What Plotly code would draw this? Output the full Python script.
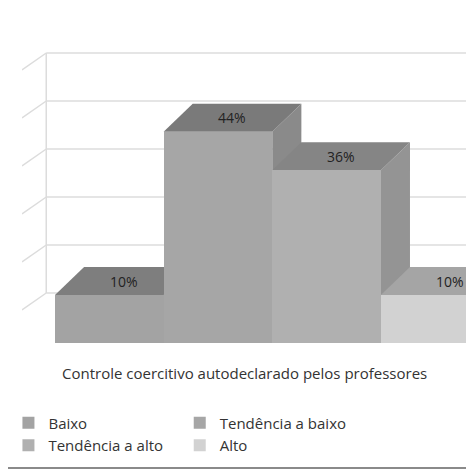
import plotly.graph_objects as go

categories = ["Baixo", "Tendência a baixo", "Tendência a alto", "Alto"]
values = [10, 44, 36, 10]
labels = ["10%", "44%", "36%", "10%"]
front_colors = ["#a3a3a3", "#a6a6a6", "#b0b0b0", "#d2d2d2"]
top_colors = ["#7e7e7e", "#7a7a7a", "#858585", "#a5a5a5"]
side_colors = ["#8a8a8a", "#8a8a8a", "#949494", "#b5b5b5"]

OFF = 8  # page body margin
W, H = 474 - OFF, 474 - OFF
floor_px = 343 - OFF
px_per = 4.8
ux = 112.0
xl = -0.5 - (42 - OFF) / ux
DX = 30 / ux
DY = 28 / px_per
WALL_DX = 25 / ux
WALL_DY = 50 / px_per

fig = go.Figure()
for i, (c, v) in enumerate(zip(categories, values)):
    fig.add_trace(go.Bar(x=[i], y=[v], width=1, name=c,
                         marker=dict(color=front_colors[i], line=dict(width=0))))

shapes = []
for v in range(0, 60, 10):
    yb = v + WALL_DY
    shapes.append(dict(type="line", xref="x", yref="y", layer="below",
                       x0=xl + WALL_DX, x1=xl + W / ux, y0=yb, y1=yb,
                       line=dict(color="#dcdcdc", width=1.5)))
    shapes.append(dict(type="line", xref="x", yref="y", layer="below",
                       x0=xl, x1=xl + WALL_DX, y0=yb - 17 / px_per, y1=yb,
                       line=dict(color="#dcdcdc", width=1.5)))
shapes.append(dict(type="line", xref="x", yref="y", layer="below",
                   x0=xl + WALL_DX, x1=xl + WALL_DX, y0=WALL_DY, y1=50 + WALL_DY,
                   line=dict(color="#dcdcdc", width=1.5)))
for i, v in enumerate(values):
    x0, x1 = i - 0.5, i + 0.5
    shapes.append(dict(type="path", xref="x", yref="y", layer="below",
                       path=f"M{x1},0 L{x1},{v} L{x1+DX},{v+DY} L{x1+DX},{DY} Z",
                       fillcolor=side_colors[i], line=dict(width=0)))
    shapes.append(dict(type="path", xref="x", yref="y", layer="below",
                       path=f"M{x0},{v} L{x1},{v} L{x1+DX},{v+DY} L{x0+DX},{v+DY} Z",
                       fillcolor=top_colors[i], line=dict(width=0)))
yb_border = (floor_px - (468 - OFF)) / floor_px
shapes.append(dict(type="line", xref="paper", yref="paper", x0=-0.05, x1=1.05,
                   y0=yb_border, y1=yb_border, line=dict(color="#8a8a8a", width=2)))

annotations = [dict(x=i + DX / 2, y=v + DY / 2, xref="x", yref="y", text=labels[i],
                    showarrow=False, font=dict(size=14, color="#222"))
               for i, v in enumerate(values)]
annotations.append(dict(x=(237 - OFF) / W, y=(floor_px - (385 - OFF)) / floor_px,
                        xref="paper", yref="paper",
                        text="Controle coercitivo autodeclarado pelos professores",
                        showarrow=False, font=dict(size=15, color="#333")))

fig.update_layout(
    width=W, height=H, margin=dict(l=0, r=0, t=0, b=H - floor_px),
    paper_bgcolor="white", plot_bgcolor="rgba(0,0,0,0)",
    font=dict(family="Open Sans, Liberation Sans, sans-serif", color="#333"),
    barmode="overlay", bargap=0,
    xaxis=dict(range=[xl, xl + W / ux], showgrid=False, zeroline=False,
               showticklabels=False, ticks=""),
    yaxis=dict(range=[0, floor_px / px_per], showgrid=False, zeroline=False,
               showticklabels=False, ticks=""),
    shapes=shapes, annotations=annotations,
    legend=dict(orientation="h", x=-0.03, xanchor="left",
                y=(floor_px - (434 - OFF)) / floor_px,
                yanchor="middle", font=dict(size=15, color="#333"),
                itemwidth=30, tracegroupgap=0),
    showlegend=True,
)
fig.write_html("out.html")
